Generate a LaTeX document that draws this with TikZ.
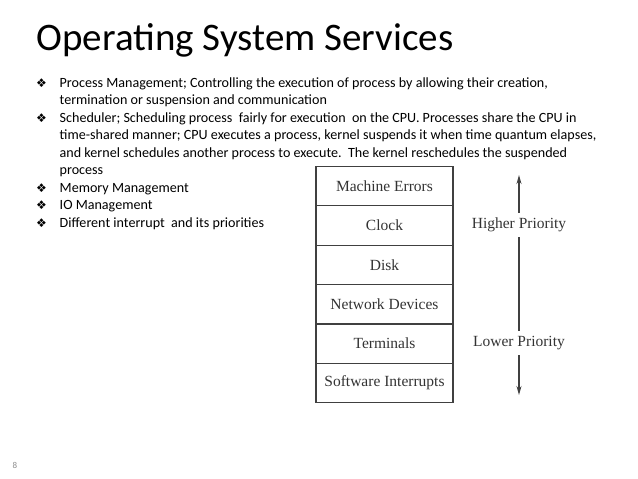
\documentclass[tikz,border=0pt]{standalone}
\usepackage{fontspec}
\setmainfont{Carlito}
\newfontfamily\bulletfont{DejaVu Sans}
\newfontfamily\scanfont{Liberation Serif}
\usetikzlibrary{positioning,arrows.meta}

\begin{document}
\begin{tikzpicture}[x=1pt,y=-1pt,node distance=0pt,
    title/.style={anchor=base west,inner sep=0pt,font=\fontsize{39}{47}\selectfont},
    bullet/.style={anchor=base west,inner sep=0pt,font=\bulletfont\fontsize{12}{17.5}\selectfont},
    item/.style={anchor=base west,inner sep=0pt,align=left,font=\fontsize{14.1}{17.5}\selectfont},
    level/.style={draw=black!75,line width=1.2pt,minimum width=137pt,minimum height=39.4pt,
      inner sep=0pt,outer sep=0pt,text=black!80,font=\scanfont\fontsize{15.5}{18}\selectfont},
    prio/.style={inner sep=5pt,text=black!80,font=\scanfont\fontsize{15.5}{18}\selectfont},
    pagenum/.style={anchor=base west,inner sep=0pt,text=black!45,font=\fontsize{9}{10}\selectfont}]

\useasboundingbox (0,0) rectangle (638,479);

\node[title] (T) at (36.5,50) {Operating System Services};

% bullets
\node[bullet] (b1) at (36,87) {❖};
\node[bullet] (b2) at (36,122) {❖};
\node[bullet] (b3) at (36,192) {❖};
\node[bullet] (b4) at (36,209.5) {❖};
\node[bullet] (b5) at (36,227) {❖};

% items (base = last line)
\node[item] (pm) at (59.5,104.5) {Process Management; Controlling the execution of process by allowing their creation,\\
termination or suspension and communication};
\node[item] (sch) at (59.5,174.5) {Scheduler; Scheduling process\ \ fairly for execution\ \ on the CPU. Processes share the CPU in\\
time-shared manner; CPU executes a process, kernel suspends it when time quantum elapses,\\
and kernel schedules another process to execute.\ \ The kernel reschedules the suspended\\
process};
\node[item] (mm) at (59.5,192) {Memory Management};
\node[item] (io) at (59.5,209.5) {IO Management};
\node[item] (intr) at (59.5,227) {Different interrupt\ \ and its priorities};

% interrupt levels
\node[level] (me) at (384.5,186) {Machine Errors};
\node[level, below=of me] (clk) {Clock};
\node[level, below=of clk] (dsk) {Disk};
\node[level, below=of dsk] (net) {Network Devices};
\node[level, below=of net] (term) {Terminals};
\node[level, below=of term] (soft) {Software Interrupts};

% priority arrow
\node[prio] (hi) at (519,225) {Higher Priority};
\node[prio] (lo) at (519,343) {Lower Priority};
\coordinate (top) at (519,175);
\coordinate (bot) at (519,395);
\draw[black!75,line width=1.2pt,-{Stealth[length=9pt,width=5pt]}] (hi) -- (top);
\draw[black!75,line width=1.2pt] (hi) -- (lo);
\draw[black!75,line width=1.2pt,-{Stealth[length=9pt,width=5pt]}] (lo) -- (bot);

\node[pagenum] (pg) at (12.5,468) {8};

\end{tikzpicture}
\end{document}
